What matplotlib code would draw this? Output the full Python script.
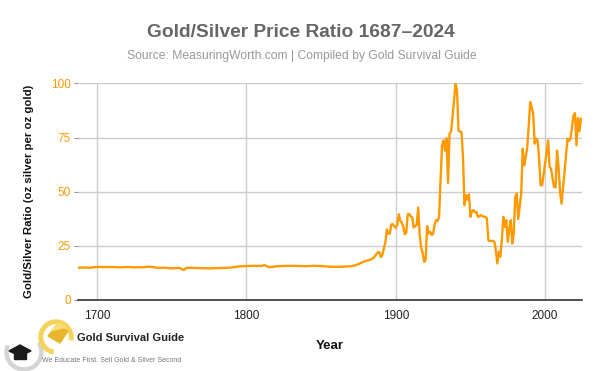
import matplotlib
matplotlib.use("Agg")
import matplotlib.pyplot as plt
from matplotlib.patches import Wedge, Polygon

plt.rcParams['font.family'] = ['Liberation Sans', 'DejaVu Sans']

# gold/silver ratio
years = [1687, 1690, 1695, 1700, 1705, 1710, 1715, 1720, 1725, 1730,
         1735, 1740, 1745, 1750, 1755, 1758, 1760, 1765, 1770, 1775,
         1780, 1785, 1790, 1795, 1800, 1805, 1810, 1812, 1815, 1818,
         1820, 1825, 1830, 1835, 1840, 1845, 1850, 1855, 1860, 1865,
         1870, 1873, 1875, 1877, 1880, 1883, 1885, 1887, 1888, 1889,
         1890, 1891, 1892, 1893, 1894, 1895, 1896, 1897, 1898, 1899,
         1900, 1901, 1902, 1903, 1904, 1905, 1906, 1907, 1908, 1909,
         1910, 1911, 1912, 1913, 1914, 1915, 1916, 1917, 1918, 1919,
         1920, 1921, 1922, 1923, 1924, 1925, 1926, 1927, 1928, 1929,
         1930, 1931, 1932, 1933, 1934, 1935, 1936, 1937, 1938, 1939,
         1940, 1941, 1942, 1943, 1944, 1945, 1946, 1947, 1948, 1949,
         1950, 1951, 1952, 1953, 1954, 1955, 1956, 1957, 1958, 1959,
         1960, 1961, 1962, 1963, 1964, 1965, 1966, 1967, 1968, 1969,
         1970, 1971, 1972, 1973, 1974, 1975, 1976, 1977, 1978, 1979,
         1980, 1981, 1982, 1983, 1984, 1985, 1986, 1987, 1988, 1989,
         1990, 1991, 1992, 1993, 1994, 1995, 1996, 1997, 1998, 1999,
         2000, 2001, 2002, 2003, 2004, 2005, 2006, 2007, 2008, 2009,
         2010, 2011, 2012, 2013, 2014, 2015, 2016, 2017, 2018, 2019,
         2020, 2021, 2022, 2023, 2024]
ratio = [14.9, 15.0, 14.9, 15.3, 15.2, 15.2, 15.1, 15.2, 15.1, 15.1,
         15.4, 14.9, 14.9, 14.6, 14.8, 13.9, 14.9, 14.8, 14.7, 14.6,
         14.7, 14.8, 15.0, 15.5, 15.7, 15.8, 15.7, 16.1, 15.2, 15.3,
         15.6, 15.7, 15.8, 15.7, 15.6, 15.8, 15.7, 15.4, 15.3, 15.4,
         15.6, 16.0, 16.6, 17.2, 18.1, 18.6, 19.4, 21.1, 22.0, 22.1,
         19.8, 20.9, 23.7, 26.5, 32.6, 30.7, 30.6, 34.9, 35.0, 34.1,
         33.3, 34.7, 39.6, 36.6, 35.7, 33.9, 30.4, 31.0, 39.6, 39.7,
         38.6, 38.3, 33.5, 34.2, 34.6, 42.7, 30.0, 24.0, 21.8, 17.6,
         18.5, 34.1, 30.7, 31.5, 30.1, 30.5, 35.0, 36.9, 36.5, 38.4,
         56.0, 71.4, 73.7, 69.0, 74.8, 54.1, 76.8, 77.7, 84.5, 92.0,
         99.9, 97.0, 78.3, 77.8, 77.6, 66.0, 43.8, 48.4, 46.3, 48.8,
         38.4, 41.0, 41.5, 40.5, 40.7, 38.4, 38.6, 39.2, 38.8, 38.4,
         38.4, 37.7, 27.6, 27.3, 27.3, 27.3, 26.9, 23.0, 16.9, 22.3,
         20.0, 27.5, 38.4, 33.8, 36.9, 26.9, 33.0, 36.9, 26.1, 30.7,
         47.6, 49.2, 37.4, 43.0, 49.0, 69.9, 62.2, 66.0, 70.5, 80.0,
         91.4, 89.0, 86.0, 72.2, 74.5, 73.7, 65.0, 53.0, 53.0, 58.0,
         63.0, 68.0, 73.7, 61.4, 60.6, 56.0, 52.2, 52.0, 69.0, 61.4,
         50.0, 44.5, 52.0, 58.7, 67.0, 74.5, 73.5, 74.5, 80.0, 85.2,
         86.3, 71.4, 84.0, 78.0, 83.7]
y_ticks = [0, 25, 50, 75, 100]
x_ticks = [1700, 1800, 1900, 2000]

fig = plt.figure(figsize=(6, 3.71), dpi=100)
ax = fig.add_axes([0.1295, 0.1914, 0.84, 0.5836])

ax.plot(years, ratio, color='#ff9900', linewidth=1.7, solid_joinstyle='round')
ax.set_xlim(1687, 2024.5)
ax.set_ylim(0, 100)
ax.set_xticks(x_ticks)
ax.set_yticks(y_ticks)
ax.grid(True, color='#cccccc', linewidth=1)
ax.set_axisbelow(True)
for s in ['top', 'right', 'left']:
    ax.spines[s].set_visible(False)
ax.spines['bottom'].set_color('#333333')
ax.spines['bottom'].set_linewidth(1.2)
ax.tick_params(axis='x', length=0, pad=7, labelsize=8.5, labelcolor='#222222')
ax.tick_params(axis='y', length=3, width=0.8, color='#999999', pad=2,
               labelsize=8.5, labelcolor='#ff9900')
ax.set_ylabel('Gold/Silver Ratio (oz silver per oz gold)', fontsize=8.2,
              fontweight='bold', color='#111111', labelpad=12)
ax.set_xlabel('Year', fontsize=9.5, fontweight='bold', color='#111111',
              labelpad=13)

fig.text(0.502, 0.912, 'Gold/Silver Price Ratio 1687\u20132024', ha='center',
         va='center', fontsize=13.8, fontweight='bold', color='#666666')
fig.text(0.503, 0.848, 'Source: MeasuringWorth.com | Compiled by Gold Survival Guide',
         ha='center', va='center', fontsize=8.7, color='#999999')

# logo in the bottom-left corner, drawn in pixel coordinates
logo = fig.add_axes([0, 0, 0.3, 63 / 371])
logo.set_xlim(0, 180)
logo.set_ylim(371, 308)
logo.axis('off')
logo.add_patch(Wedge((24, 352), 19, 330, 200, width=3, color='#d4d4d4'))
logo.add_patch(Wedge((56, 337), 17, 100, 10, width=3.5, color='#f5d35a'))
logo.add_patch(Polygon([[48, 336], [57, 325], [68, 331], [60, 343]], color='#eab52c'))
logo.add_patch(Polygon([[51, 331], [58, 323], [66, 327]], color='#f7dc7a'))
logo.add_patch(Polygon([[9, 351], [20, 345], [31, 351], [20, 356]], color='#1a1a1a'))
logo.add_patch(Polygon([[14, 353], [26, 353], [26, 359], [14, 359]], color='#1a1a1a'))
logo.text(77, 338, 'Gold Survival Guide', ha='left', va='center', fontsize=8,
          fontweight='bold', color='#222222')
logo.text(42, 361, 'We Educate First. Sell Gold & Silver Second', ha='left',
          va='center', fontsize=5, color='#777777')

fig.savefig('out.png', dpi=100)
